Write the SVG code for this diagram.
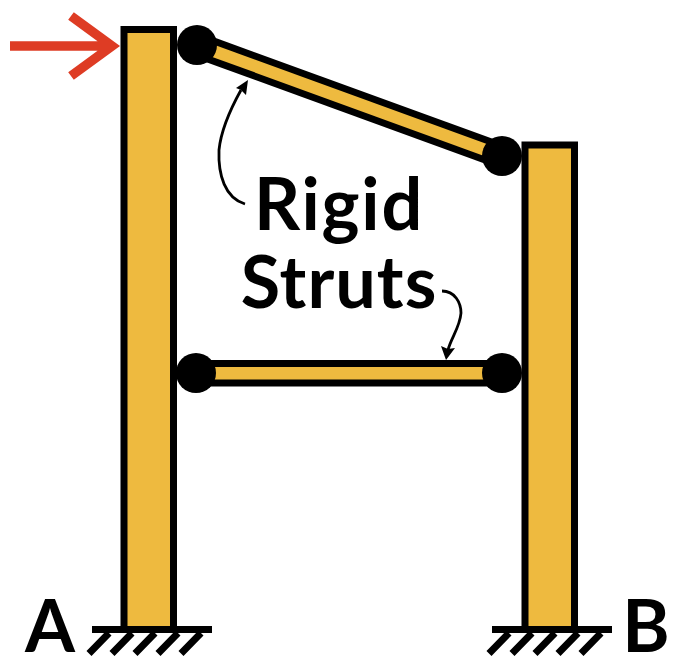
<svg xmlns="http://www.w3.org/2000/svg" width="676" height="668" viewBox="0 0 676 668">
<style>
.m{fill:#eeba3f;stroke:#000;stroke-width:7}
.j{fill:#000}
.g{stroke:#000;stroke-width:7;fill:none}
.c{stroke:#000;stroke-width:2.800;fill:none}
.h{fill:#000}
.t{font-family:"Lato","Liberation Sans",sans-serif;font-weight:700;fill:#000;text-anchor:middle}
</style>
<rect width="676" height="668" fill="#fff"/>
<g id="column-a"><rect class="m" x="124" y="29.500" width="49.500" height="600"/></g>
<g id="column-b"><rect class="m" x="525" y="145" width="49.500" height="484.500"/></g>
<g id="strut-top"><path d="M197 45L502 156" stroke="#000" stroke-width="26" fill="none"/><path d="M197 45L502 156" stroke="#eeba3f" stroke-width="12" fill="none"/><circle class="j" cx="197" cy="45" r="20"/><circle class="j" cx="502" cy="156" r="20"/></g>
<g id="strut-bottom"><rect x="196" y="360" width="306" height="26.500" fill="#000"/><rect x="196" y="367" width="306" height="12.500" fill="#eeba3f"/><circle class="j" cx="196" cy="373" r="20"/><circle class="j" cx="502" cy="373" r="20"/></g>
<g id="support-a"><path class="g" d="M92 629.500H212M89 653.500L109 633M112 653.500L132 633M135 653.500L155 633M158 653.500L178 633M181 653.500L201 633"/></g>
<g id="support-b"><path class="g" d="M492 629.500H612M489 653.500L509 633M512 653.500L532 633M535 653.500L555 633M558 653.500L578 633M581 653.500L601 633"/></g>
<g id="connectors">
<path d="M10 46H112M71 16L112 46L71 76" fill="none" stroke="#de3c24" stroke-width="9.500"/>
<path class="c" d="M245 204C225 198 218 175 219 150C221 130 231 108 241 90"/>
<path class="h" d="M248 80L246 95L241 90L236 88Z"/>
<path class="c" d="M442 291C455 291 461 303 461 313C460 327 451 338 448 350"/>
<path class="h" d="M446 360L441 346L448 349L455 348Z"/>
</g>
<g id="labels">
<text class="t" x="339" y="230" font-size="72" letter-spacing="1.800">Rigid</text>
<text class="t" x="339" y="308" font-size="72" letter-spacing="1">Struts</text>
<text class="t" x="50" y="652" font-size="72">A</text>
<text class="t" x="646" y="652" font-size="72">B</text>
</g>
</svg>
